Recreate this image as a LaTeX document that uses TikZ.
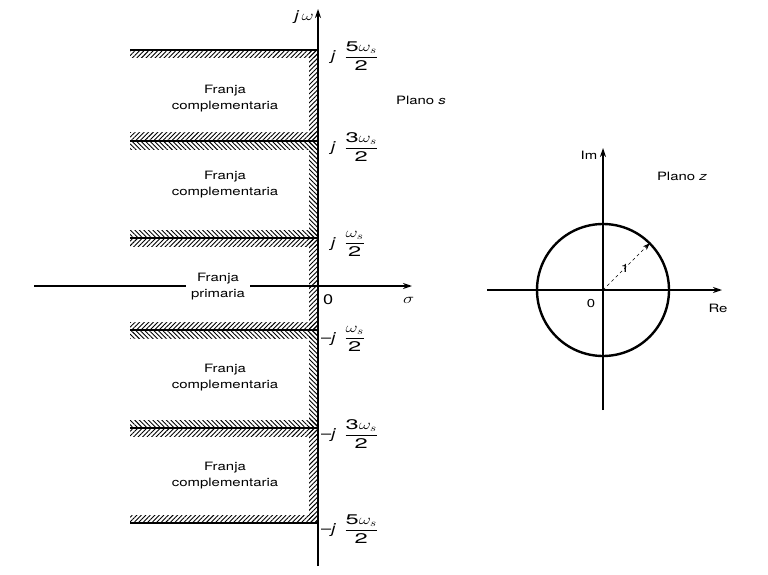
\documentclass[tikz,border=0pt]{standalone}
\usepackage{amsmath}
\usepackage{fontspec}
\setmainfont[FakeStretch=1.3]{TeX Gyre Heros}
\usepackage{tikz}
\usetikzlibrary{arrows.meta, patterns.meta}
\tikzset{
    axis/.style = {-{Stealth[length=9pt, width=6pt]}, line width=1.3pt},
    edge/.style = {line width=1.8pt},
    hatch/.style = {pattern={Lines[angle=#1, distance=3.2pt, line width=0.9pt]}},
    lbl/.style = {font=\fontsize{11.5}{16}\selectfont, align=center, inner sep=1pt},
    val/.style = {font=\fontsize{14}{15}\selectfont, anchor=west, inner sep=0pt},
}
\newcommand{\wfrac}[1]{\scalebox{1.3}[1]{$\dfrac{\text{#1}\omega_s}{\text{2}}$}}
\newcommand{\hfrac}{\scalebox{1.3}[1]{$\dfrac{\omega_s}{\text{2}}$}}

\begin{document}
\begin{tikzpicture}[x=1pt, y=-1pt]
        \useasboundingbox (0,0) rectangle (768,575);
        % strips and hatching (plano s)
        \foreach \yt/\yb/\ang in {50/141/45, 141/238/-45, 238/330/45, 330/428/-45, 428/523/45} {
            \fill[hatch=\ang] (130,\yt) rectangle (318,\yt+8);
            \fill[hatch=\ang] (130,\yb-8) rectangle (318,\yb);
            \fill[hatch=\ang] (309,\yt) rectangle (318,\yb);
        }
        \foreach \y in {50,141,238,330,428,523}
            \draw[edge] (130,\y) -- (318,\y);
        % axes (plano s)
        \coordinate (sw) at (34,286);
        \coordinate (se) at (412,286);
        \coordinate (jb) at (318,566);
        \coordinate (jt) at (318,9);
        \draw[axis] (sw) -- (se);
        \draw[axis] (jb) -- (jt);
        \node[lbl, fill=white, inner xsep=5pt] (prim) at (218,287) {Franja\\primaria};
        \node[lbl] (comp1) at (225,99) {Franja\\complementaria};
        \node[lbl] (comp2) at (225,185) {Franja\\complementaria};
        \node[lbl] (comp4) at (225,378) {Franja\\complementaria};
        \node[lbl] (comp5) at (225,476) {Franja\\complementaria};
        \node[val, anchor=east] (jw) at (314,17) {\textit{j}\,\scalebox{1.3}[1]{$\omega$}};
        \node[val] (p5) at (331,56) {\textit{j}\hspace{8pt}\wfrac{5}};
        \node[val] (p3) at (331,147) {\textit{j}\hspace{8pt}\wfrac{3}};
        \node[val] (p1) at (331,244) {\textit{j}\hspace{8pt}\hfrac};
        \node[val] (n1) at (321,339) {--\textit{j}\hspace{8pt}\hfrac};
        \node[val] (n3) at (321,434) {--\textit{j}\hspace{8pt}\wfrac{3}};
        \node[val] (n5) at (321,529) {--\textit{j}\hspace{8pt}\wfrac{5}};
        \node[val] (o1) at (323,300) {0};
        \node[val, font=\fontsize{15}{16}\selectfont] (sigma) at (403,300) {\scalebox{1.3}[1]{$\sigma$}};
        \node[lbl] (ps) at (421,100) {Plano \textit{s}};
        % plano z
        \coordinate (rw) at (487,290);
        \coordinate (re) at (722,290);
        \coordinate (ib) at (603,410);
        \coordinate (it) at (603,148);
        \coordinate (c) at (603,290);
        \draw[axis] (rw) -- (re);
        \draw[axis] (ib) -- (it);
        \draw[line width=2.4pt] (c) circle (66);
        \draw[-{Stealth[length=7pt]}, dashed, line width=0.6pt] (c) -- ++(-45:66);
        \node[lbl] (one) at (625,268) {1};
        \node[lbl] (o2) at (591,304) {0};
        \node[lbl] (im) at (589,155) {Im};
        \node[lbl] (rlab) at (718,308) {Re};
        \node[lbl] (pz) at (682,176) {Plano \textit{z}};
      \end{tikzpicture}
\end{document}
